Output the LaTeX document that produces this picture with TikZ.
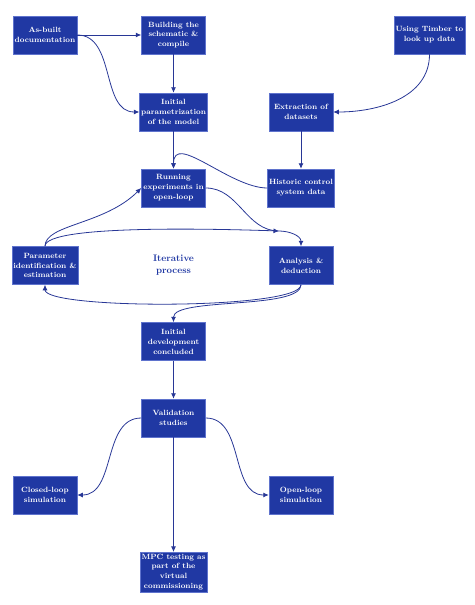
\documentclass[tikz,border=0pt]{standalone}
\usetikzlibrary{arrows.meta}
\definecolor{boxblue}{RGB}{32,56,163}
\definecolor{boxedge}{RGB}{95,115,205}
\definecolor{lineblue}{RGB}{40,55,150}

\tikzset{
  block/.style={rectangle, fill=boxblue, draw=boxedge, line width=0.5pt, text=white,
    font=\fontsize{7.6}{9.9}\selectfont\bfseries, align=center,
    minimum width=64pt, minimum height=38pt, inner sep=1.5pt},
  flow/.style={draw=lineblue, line width=0.8pt, -{Latex[length=5.5pt,width=5pt]}}
}

\begin{document}
\begin{tikzpicture}[x=1pt,y=1pt]
\useasboundingbox (0,0) rectangle (474,-605);

\node[block] (asbuilt)  at (45,-35)    {As-built\\documentation};
\node[block] (building) at (173.5,-35) {Building the\\schematic \&\\compile};
\node[block] (timber)   at (429.5,-35) {Using Timber to\\look up data};
\node[block] (initpar)  at (173.5,-112) {Initial\\parametrization\\of the model};
\node[block] (extract)  at (301,-112)  {Extraction of\\datasets};
\node[block] (running)  at (173.5,-188) {Running\\experiments in\\open-loop};
\node[block] (historic) at (301,-188)  {Historic control\\system data};
\node[block] (paramid)  at (45,-265.5) {Parameter\\identification \&\\estimation};
\node[block] (analysis) at (301,-265.5) {Analysis \&\\deduction};
\node[font=\fontsize{9.5}{12}\selectfont\bfseries, text=boxblue, align=center] (iter) at (173.5,-265) {Iterative\\process};
\node[block] (initdev)  at (173.5,-341.5) {Initial\\development\\concluded};
\node[block] (valid)    at (173.5,-418) {Validation\\studies};
\node[block] (closed)   at (45,-495)   {Closed-loop\\simulation};
\node[block] (open)     at (301,-495)  {Open-loop\\simulation};
\node[block] (mpc)      at (173.5,-572) {MPC testing as\\part of the\\virtual\\commissioning};

\coordinate (merge) at (279,-231);

% top part
\draw[flow] (asbuilt.east) -- (building.west);
\draw[flow] (asbuilt.east) to[out=0,in=180] (initpar.west);
\draw[flow] (building.south) -- (initpar.north);
\draw[flow] (timber.south) to[out=-90,in=0] (extract.east);
\draw[flow] (extract.south) -- (historic.north);
\draw[flow] (initpar.south) -- (running.north);
\draw[flow] (historic.west) to[out=180,in=90] (running.north);

% iterative loop
\draw[flow] (running.east) to[out=0,in=180] (merge) to[out=0,in=90] (analysis.north);
\draw[flow] (paramid.north) .. controls +(0,22) and +(-37,-37) .. (running.west);
\draw[flow] (paramid.north) .. controls +(0,22) and +(-60,2) .. (merge);
\draw[flow] (analysis.south) .. controls +(0,-25) and +(0,-25) .. (paramid.south);
\draw[flow] (analysis.south) .. controls +(0,-25) and +(0,25) .. (initdev.north);

% validation
\draw[flow] (initdev.south) -- (valid.north);
\draw[flow] (valid.west) to[out=180,in=0] (closed.east);
\draw[flow] (valid.east) to[out=0,in=180] (open.west);
\draw[flow] (valid.south) -- (mpc.north);
\end{tikzpicture}
\end{document}
